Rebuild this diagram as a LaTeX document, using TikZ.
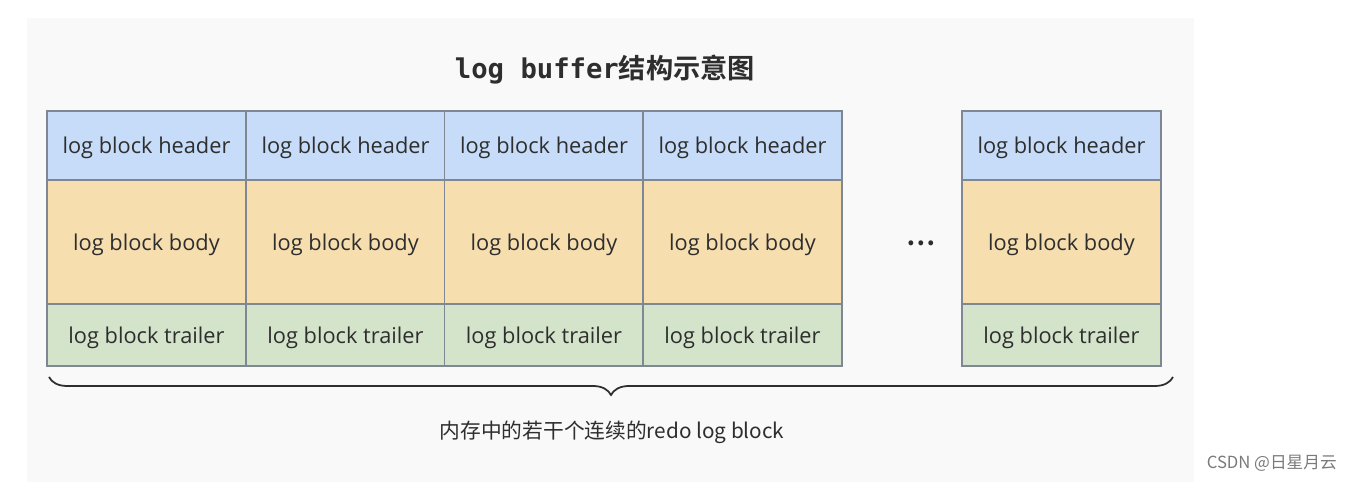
\documentclass[tikz,border=0pt]{standalone}
\usepackage{fontspec}
\setmainfont{Open Sans}
\newfontfamily\cjk[BoldFont={Noto Sans CJK SC Bold}]{Noto Sans CJK SC}
\newfontfamily\titlemono{DejaVu Sans Mono}
\usetikzlibrary{decorations.pathreplacing}

\definecolor{hdrblue}{HTML}{C6DCF9}
\definecolor{bdyorange}{HTML}{F6DEAF}
\definecolor{trlgreen}{HTML}{D4E4CA}
\definecolor{cellline}{HTML}{7E8792}
\definecolor{textdark}{HTML}{2E2E2E}
\definecolor{panelgray}{HTML}{F9F9F9}
\definecolor{markgray}{HTML}{7A7A7A}

\begin{document}
\begin{tikzpicture}[x=0.02cm, y=-0.02cm,
  cell/.style={draw=cellline, line width=0.6pt, minimum width=3.98cm, inner sep=0pt,
    text depth=0pt, text=textdark, font=\fontsize{12.4}{14}\selectfont},
  hdrcell/.style={cell, fill=hdrblue, minimum height=1.38cm},
  bdycell/.style={cell, fill=bdyorange, minimum height=2.48cm},
  trlcell/.style={cell, fill=trlgreen, minimum height=1.24cm}]

\useasboundingbox (0,0) rectangle (1357,482);
\fill[panelgray] (27,18) rectangle (1194,482);

\node[text=textdark] (title) at (605,70)
  {\fontsize{15.5}{18}\selectfont{\titlemono\bfseries log buffer}{\cjk\bfseries 结构示意图}};

% blocks
\foreach \n/\x in {1/146.5, 2/345.5, 3/544, 4/742.5, 5/1061.5} {
  \node[hdrcell] (hdr\n) at (\x,145.5) {log block header};
  \node[bdycell] (bdy\n) at (\x,242) {log block body};
  \node[trlcell] (trl\n) at (\x,335) {log block trailer};
}

\node[text=textdark] (dots) at (921,243) {\fontsize{15}{16}\selectfont\cjk\bfseries …};

% brace
\coordinate (bracel) at (49,377);
\coordinate (bracer) at (1173,377);
\draw[decorate, decoration={brace, mirror, amplitude=0.36cm}, line width=1pt, draw=textdark]
  (bracel) -- (bracer);
\node[text=textdark] (caption) at (612,432)
  {\fontsize{11.8}{14}\selectfont\cjk 内存中的若干个连续的redo log block};

\node[text=markgray, anchor=east] (mark) at (1343,463)
  {\fontsize{9.5}{11}\selectfont\cjk CSDN @日星月云};

\end{tikzpicture}
\end{document}
